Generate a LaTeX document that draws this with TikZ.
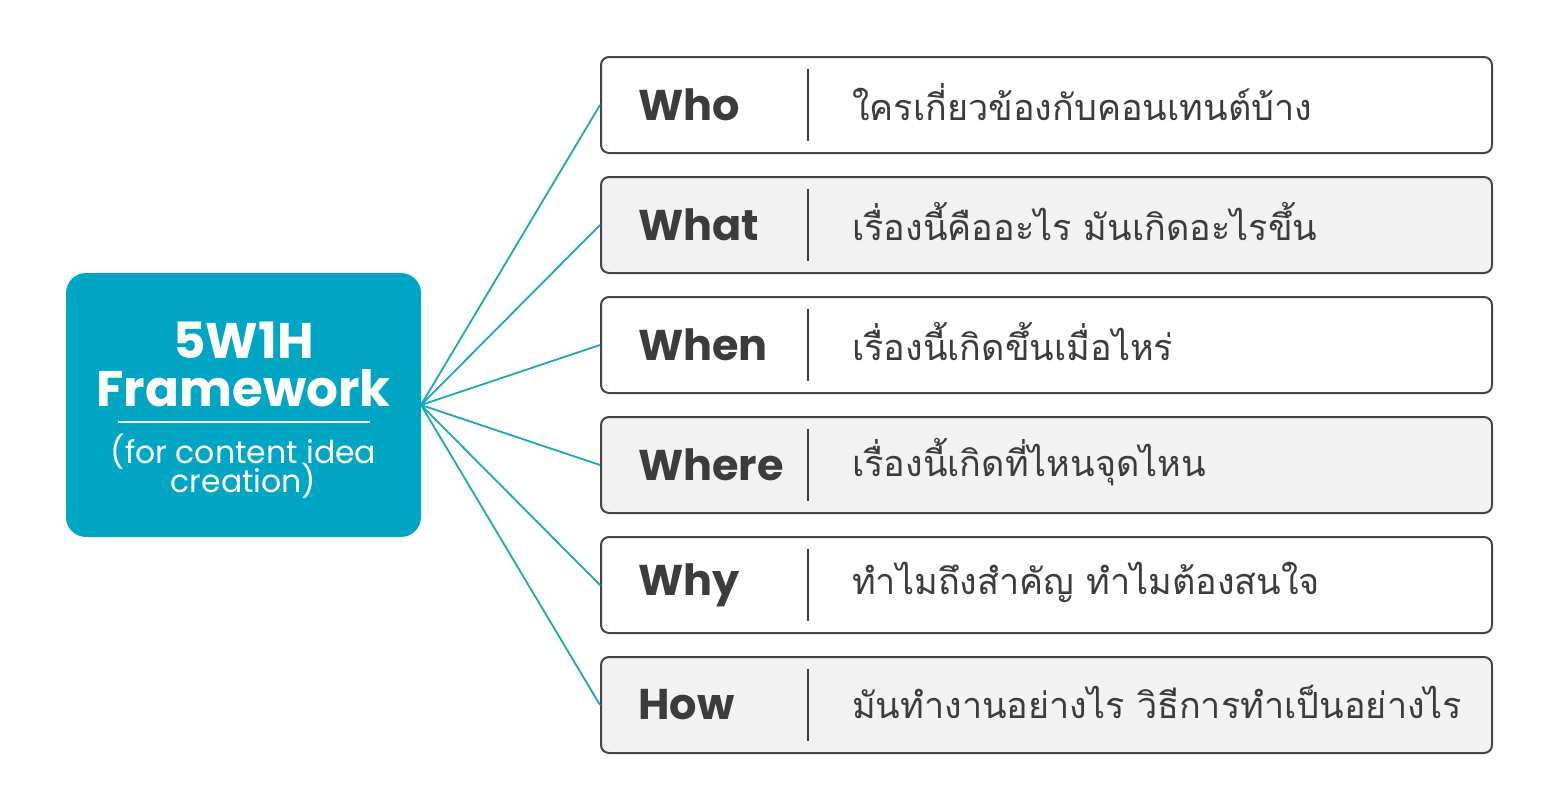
\documentclass[tikz,border=0pt]{standalone}
\usepackage{fontspec}
\setmainfont{Poppins}
\newfontfamily\thaifont[Script=Thai]{Loma}
\newfontfamily\headfont{Poppins}
\definecolor{teal5}{HTML}{00A6C3}
\definecolor{linec}{HTML}{1AA8B8}
\definecolor{textc}{HTML}{3C3C3C}
\definecolor{boxg}{HTML}{F2F2F2}
\definecolor{edgec}{HTML}{454545}
\tikzset{
  itembox/.style={draw=edgec, line width=2pt, rounded corners=8pt, minimum width=891pt, minimum height=96pt, inner sep=0pt},
  whitebox/.style={itembox, fill=white},
  graybox/.style={itembox, fill=boxg},
  keylabel/.style={anchor=west, text=textc, font=\headfont\bfseries\fontsize{43}{46}\selectfont, inner sep=0pt},
  desc/.style={anchor=west, text=textc, font=\thaifont\fontsize{36}{42}\selectfont, inner sep=0pt},
  divider/.style={draw=textc, line width=2pt},
  conn/.style={draw=linec, line width=1.8pt},
  hub/.style={fill=teal5, rounded corners=20pt, minimum width=355pt, minimum height=264pt, inner sep=0pt},
  hubtitle/.style={text=white, font=\headfont\bfseries\fontsize{50}{50}\selectfont, anchor=base, inner sep=0pt},
  hubsub/.style={text=white, font=\headfont\fontsize{31.5}{32}\selectfont, anchor=base, inner sep=0pt}
}
\begin{document}
\begin{tikzpicture}[x=1pt,y=-1pt]
\useasboundingbox (0,0) rectangle (1546,801);
\node[hub] (hub) at (243.5,405) {};
\coordinate (hubE) at (421,405);
\node[hubtitle] (t1) at (243.5,358) {5W1H};
\node[hubtitle] (t2) at (243.5,406) {Framework};
\draw[white, line width=1.2pt] (118,422) -- (370,422);
\node[hubsub] (s1) at (243.5,463) {(for content idea};
\node[hubsub] (s2) at (243.5,492) {creation)};

\foreach \n/\y/\st/\k/\d in {
  who/105/whitebox/Who/ใครเกี่ยวข้องกับคอนเทนต์บ้าง,
  what/225/graybox/What/เรื่องนี้คืออะไร มันเกิดอะไรขึ้น,
  when/345/whitebox/When/เรื่องนี้เกิดขึ้นเมื่อไหร่,
  where/465/graybox/Where/เรื่องนี้เกิดที่ไหนจุดไหน,
  why/585/whitebox/Why/ทำไมถึงสำคัญ ทำไมต้องสนใจ,
  how/705/graybox/How/มันทำงานอย่างไร วิธีการทำเป็นอย่างไร}{
  \node[\st] (\n) at (1046.5,\y) {};
  \node[keylabel] (\n k) at (638,\y) {\k};
  \node[desc] (\n d) at (852,\y-3) {\d};
  \draw[divider] (808,\y-36) -- (808,\y+36);
  \draw[conn] (hubE) -- (\n.west);
}
\end{tikzpicture}
\end{document}
